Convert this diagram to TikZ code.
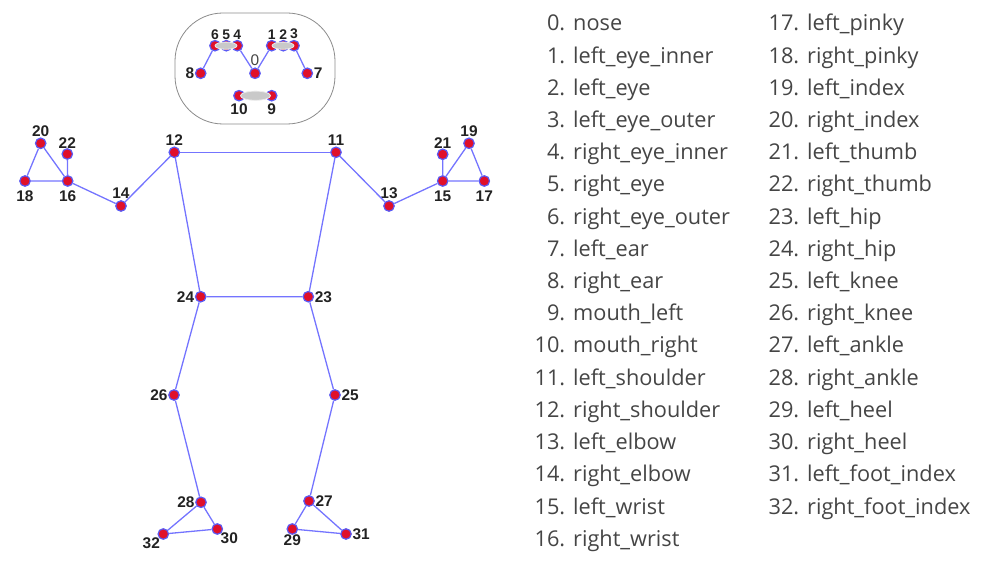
\documentclass[tikz,border=0pt]{standalone}
\usepackage{fontspec}
\setmainfont{Open Sans}
\newfontfamily\lblfont{Liberation Sans}

\definecolor{kpred}{HTML}{E0102A}
\definecolor{kpblue}{HTML}{5A5AF5}
\definecolor{boneblue}{HTML}{7474FF}
\definecolor{lblgray}{HTML}{222222}
\definecolor{itemgray}{HTML}{454545}
\definecolor{headgray}{HTML}{8A8A8A}
\definecolor{shapegray}{HTML}{C9C9C9}

\begin{document}
\begin{tikzpicture}[x=1bp,y=-1bp,
  kp/.style={circle,fill=kpred,draw=kpblue,line width=1.2bp,inner sep=0pt,minimum size=10.5bp},
  lbl/.style={font=\lblfont\bfseries\fontsize{15.5}{15.5}\selectfont,text=lblgray,inner sep=0.5bp},
  eyelbl/.style={lbl,font=\lblfont\bfseries\fontsize{14}{14}\selectfont,label distance=0bp},
  bone/.style={draw=boneblue,line width=1.3bp},
  blob/.style={fill=shapegray,draw=white!85!gray,line width=0.8bp},
  item/.style={font=\fontsize{21.8}{21.8}\selectfont,text=itemgray,anchor=base west,inner sep=0pt},
  every label/.style={label distance=1bp}]
\useasboundingbox (0,0) rectangle (985,562);

% Head outline
\draw[headgray,line width=0.8bp,rounded corners=48bp] (175,13) rectangle (335,124);

% Face keypoints
\node[kp,label={[lbl,font=\lblfont\fontsize{15.5}{15.5}\selectfont,text=itemgray,label distance=1bp]above:0}] (k0) at (255,73.3) {};
\node[kp,label={[eyelbl]above:1}] (k1) at (271.7,45.7) {};
\node[kp,label={[eyelbl]above:2}] (k2) at (283.3,45.7) {};
\node[kp,label={[eyelbl]above:3}] (k3) at (294,45.7) {};
\node[kp,label={[eyelbl]above:4}] (k4) at (237.3,45.7) {};
\node[kp,label={[eyelbl]above:5}] (k5) at (226.3,45.7) {};
\node[kp,label={[eyelbl]above:6}] (k6) at (215,45.7) {};
\node[kp,label={[lbl,label distance=0bp]right:7}] (k7) at (307.3,73.3) {};
\node[kp,label={[lbl,label distance=0bp]left:8}] (k8) at (200.7,73.3) {};
\node[kp,label={[lbl,label distance=1bp]below:9}] (k9) at (271.7,95.7) {};
\node[kp,label={[lbl,label distance=1bp]below:10}] (k10) at (239,95.7) {};

% Arms and hands
\node[kp,label={[lbl,label distance=0bp]above:11}] (k11) at (336,152.3) {};
\node[kp,label={[lbl,label distance=0bp]above:12}] (k12) at (174.3,152.3) {};
\node[kp,label={[lbl,label distance=1bp]above:13}] (k13) at (389,206) {};
\node[kp,label={[lbl,label distance=1bp]above:14}] (k14) at (121,206) {};
\node[kp,label={[lbl,label distance=3bp]below:15}] (k15) at (442.7,181) {};
\node[kp,label={[lbl,label distance=3bp]below:16}] (k16) at (67.7,181) {};
\node[kp,label={[lbl,label distance=3bp]below:17}] (k17) at (484.3,181) {};
\node[kp,label={[lbl,label distance=3bp]below:18}] (k18) at (25,181) {};
\node[kp,label={[lbl,label distance=0bp]above:19}] (k19) at (469,143.3) {};
\node[kp,label={[lbl,label distance=0bp]above:20}] (k20) at (40.7,143.3) {};
\node[kp,label={[lbl,label distance=-1bp]above:21}] (k21) at (442.7,154.3) {};
\node[kp,label={[lbl,label distance=-1bp]above:22}] (k22) at (67.3,154) {};

% Hips, knees and feet
\node[kp,label={[lbl,label distance=0bp]right:23}] (k23) at (308.3,296.7) {};
\node[kp,label={[lbl,label distance=0bp]left:24}] (k24) at (200.7,296.7) {};
\node[kp,label={[lbl,label distance=0bp]right:25}] (k25) at (335,395) {};
\node[kp,label={[lbl,label distance=0bp]left:26}] (k26) at (174,395) {};
\node[kp,label={[lbl,label distance=0bp]right:27}] (k27) at (309,501) {};
\node[kp,label={[lbl,label distance=0bp]left:28}] (k28) at (201,502.3) {};
\node[kp,label={[lbl,label distance=-1bp]below:29}] (k29) at (292.3,529) {};
\node[kp,label={[lbl,label distance=-2bp]below right:30}] (k30) at (217.3,529) {};
\node[kp,label={[lbl,label distance=0bp]right:31}] (k31) at (346,534) {};
\node[kp,label={[lbl,label distance=-2bp]below left:32}] (k32) at (163.3,534) {};

% Gray eye and mouth shapes over the points
\path[blob] (226,45.7) ellipse [x radius=11bp,y radius=3.6bp];
\path[blob] (283,45.7) ellipse [x radius=11bp,y radius=3.6bp];
\path[blob] (255.5,95.7) ellipse [x radius=15bp,y radius=4.6bp];

% Connect the face
\draw[bone] (k8) -- (k6);
\draw[bone] (k4) -- (k0) -- (k1);
\draw[bone] (k3) -- (k7);

% Connect the body
\draw[bone] (k11) -- (k12);
\draw[bone] (k11) -- (k13) -- (k15) -- (k17) -- (k19) -- (k15) -- (k21);
\draw[bone] (k12) -- (k14) -- (k16) -- (k18) -- (k20) -- (k16) -- (k22);
\draw[bone] (k12) -- (k24) -- (k23) -- (k11);
\draw[bone] (k23) -- (k25) -- (k27) -- (k29) -- (k31) -- (k27);
\draw[bone] (k24) -- (k26) -- (k28) -- (k30) -- (k32) -- (k28);

% Keypoint names
\foreach \i/\name in {0/nose, 1/left\_eye\_inner, 2/left\_eye, 3/left\_eye\_outer,
    4/right\_eye\_inner, 5/right\_eye, 6/right\_eye\_outer, 7/left\_ear, 8/right\_ear,
    9/mouth\_left, 10/mouth\_right, 11/left\_shoulder, 12/right\_shoulder,
    13/left\_elbow, 14/right\_elbow, 15/left\_wrist, 16/right\_wrist}
  \node[item] (n\i) at (535,{31+32.2*\i}) {\makebox[30bp][r]{\i.}\hspace{8bp}\name};
\foreach \i/\name in {17/left\_pinky, 18/right\_pinky, 19/left\_index, 20/right\_index,
    21/left\_thumb, 22/right\_thumb, 23/left\_hip, 24/right\_hip, 25/left\_knee,
    26/right\_knee, 27/left\_ankle, 28/right\_ankle, 29/left\_heel, 30/right\_heel,
    31/left\_foot\_index, 32/right\_foot\_index}
  \node[item] (n\i) at (769,{31+32.2*(\i-17)}) {\makebox[30bp][r]{\i.}\hspace{8bp}\name};
\end{tikzpicture}
\end{document}
